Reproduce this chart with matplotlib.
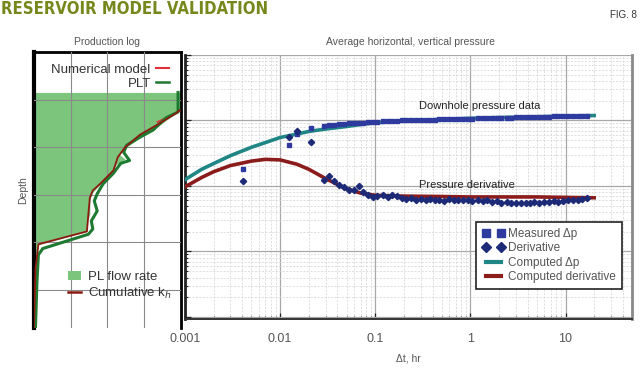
import matplotlib
matplotlib.use("Agg")
import matplotlib.pyplot as plt
from matplotlib.patches import Patch
from matplotlib.lines import Line2D
from matplotlib.ticker import LogLocator, NullFormatter, FixedLocator, FixedFormatter
from matplotlib import font_manager

plt.rcParams['font.family'] = ['Liberation Sans', 'DejaVu Sans']

# ---------------- Production log (left panel) ----------------
plt_flow = [0.98, 0.98, 0.90, 0.81, 0.72, 0.63, 0.61, 0.65, 0.59, 0.54, 0.47, 0.43, 0.41, 0.43, 0.39, 0.40, 0.37, 0.06, 0.03, 0.02, 0.01]
plt_depth = [-0.15, 0.26, 0.38, 0.64, 0.79, 0.96, 1.11, 1.28, 1.34, 1.55, 1.77, 1.98, 2.13, 2.34, 2.55, 2.72, 2.83, 3.13, 3.26, 3.83, 4.80]

pl_rate = [1.0, 1.0, 0.97, 0.88, 0.78, 0.70, 0.62, 0.58, 0.62, 0.56, 0.53, 0.45, 0.40, 0.38, 0.38, 0.36, 0.36, 0.35, 0.03, 0.01, 0.0]
pl_depth = [-0.15, 0.20, 0.28, 0.48, 0.70, 0.85, 1.02, 1.15, 1.25, 1.36, 1.52, 1.78, 1.95, 2.10, 2.40, 2.60, 2.75, 2.78, 3.05, 3.60, 4.80]

cum_kh = [0.99, 0.97, 0.86, 0.72, 0.62, 0.57, 0.54, 0.45, 0.40, 0.38, 0.37, 0.36, 0.03, 0.01, 0.0]
kh_depth = [0.22, 0.28, 0.49, 0.74, 1.00, 1.21, 1.49, 1.77, 1.91, 2.06, 2.40, 2.77, 3.04, 3.55, 4.80]

num_model = [0.99, 0.95, 0.90, 0.84]
num_depth = [0.24, 0.30, 0.38, 0.47]

# ---------------- Pressure data (right panel) ----------------
comp_t = [0.001, 0.0015, 0.002, 0.003, 0.005, 0.007, 0.01, 0.015, 0.02, 0.03, 0.05, 0.07, 0.1, 0.2, 0.5, 1, 2, 5, 10, 20]
comp_dp = [12.5, 18, 22, 29, 39, 46, 55, 62, 68, 74, 81, 87, 92, 98, 104, 108, 111, 114, 117, 119]
comp_deriv = [9.7, 13.5, 16.5, 20.5, 24, 25.5, 25, 21.5, 18, 13, 9, 7.8, 7.2, 7.0, 6.9, 6.8, 6.8, 6.8, 6.7, 6.6]

meas_t = [0.0041, 0.0125, 0.015, 0.021,
          0.029, 0.033, 0.037, 0.042, 0.047, 0.053, 0.060, 0.067, 0.075, 0.084, 0.094,
          0.105, 0.12, 0.135, 0.15, 0.17, 0.19, 0.21, 0.24, 0.27, 0.30, 0.34, 0.38,
          0.42, 0.47, 0.53, 0.60, 0.67, 0.75, 0.84, 0.94, 1.05, 1.2, 1.35, 1.5, 1.7,
          1.9, 2.1, 2.4, 2.7, 3.0, 3.4, 3.8, 4.2, 4.7, 5.3, 6.0, 6.7, 7.5, 8.4, 9.4,
          10.5, 12.0, 13.5, 15.0, 17.0]
meas_dp = [18, 42, 62, 78,
           82, 84, 86, 88, 89, 90, 91, 92, 93, 94, 95,
           96, 97, 98, 99, 99, 100, 100, 101, 101, 102, 102, 103,
           103, 104, 104, 105, 105, 106, 106, 107, 107, 108, 108, 109, 109,
           110, 110, 111, 111, 112, 112, 113, 113, 114, 114, 115, 115, 116, 116, 117,
           117, 118, 118, 119, 119]
meas_deriv = [12, 55, 68, 47,
              12.5, 14, 12, 10.5, 9.5, 8.6, 8.8, 10, 8.2, 7.3, 6.9,
              7.0, 7.3, 6.8, 7.2, 7.0, 6.5, 6.3, 6.6, 6.2, 6.4, 6.0, 6.3,
              6.1, 6.2, 5.9, 6.3, 6.0, 6.2, 6.0, 6.1, 5.9, 6.2, 5.8, 6.0, 5.7,
              5.8, 5.5, 5.6, 5.4, 5.5, 5.4, 5.5, 5.5, 5.6, 5.5, 5.7, 5.6, 5.8, 5.7, 5.9,
              6.0, 6.1, 6.2, 6.4, 6.5]

x_ticks = [0.001, 0.01, 0.1, 1, 10]
x_tick_labels = ["0.001", "0.01", "0.1", "1", "10"]

text_grey = '#555555'

fig = plt.figure(figsize=(6.4, 3.73), dpi=100)
W, H = 640, 373

def rect(x0, y0, x1, y1):
    return [x0 / W, 1 - y1 / H, (x1 - x0) / W, (y1 - y0) / H]

# ---- left axes ----
axl = fig.add_axes(rect(34, 52, 181, 328))
axl.fill_betweenx(pl_depth, 0, pl_rate, color='#7cc57c', lw=0, zorder=1)
axl.plot(num_model, num_depth, color='#e0303a', lw=1.2, zorder=3)
axl.plot(plt_flow, plt_depth, color='#1d7a30', lw=2.2, zorder=3)
axl.plot(cum_kh, kh_depth, color='#8b1a10', lw=1.3, zorder=4)
axl.set_xlim(0, 1)
axl.set_ylim(4.8, -1.0)
axl.xaxis.set_major_locator(FixedLocator([0.25, 0.5, 0.75]))
axl.yaxis.set_major_locator(FixedLocator([0, 1, 2, 3, 4]))
axl.grid(True, color='#8a8a8a', lw=0.8)
axl.set_axisbelow(False)
axl.tick_params(length=0, labelbottom=False, labelleft=False)
axl.spines['bottom'].set_visible(False)
axl.spines['left'].set_linewidth(3)
axl.spines['top'].set_linewidth(2)
axl.spines['right'].set_linewidth(2)
axl.set_ylabel('Depth', fontsize=7.5, color=text_grey, labelpad=4)

h1 = [Line2D([], [], color='#e0303a', lw=1.5), Line2D([], [], color='#1d7a30', lw=1.8)]
leg1 = axl.legend(h1, ['Numerical model', 'PLT'], loc='upper right', frameon=False,
                  markerfirst=False, fontsize=9.5, handlelength=1.0, handletextpad=0.4,
                  borderaxespad=0.5, labelspacing=0.1, labelcolor='#333333')
for t in leg1.get_texts():
    t.set_ha('right')
axl.add_artist(leg1)
h2 = [Patch(facecolor='#7cc57c', edgecolor='none'), Line2D([], [], color='#8b1a10', lw=1.8)]
axl.legend(h2, ['PL flow rate', 'Cumulative k$_h$'], loc='lower left', bbox_to_anchor=(0.15, 0.055),
           frameon=False, fontsize=9.5, handlelength=1.0, handletextpad=0.5,
           labelspacing=0.2, labelcolor='#333333')

# ---- right axes ----
axr = fig.add_axes(rect(185, 55, 632, 319))
axr.set_xscale('log')
axr.set_yscale('log')
axr.set_xlim(0.001, 50)
axr.set_ylim(0.093, 1000)
axr.xaxis.set_major_locator(FixedLocator(x_ticks))
axr.xaxis.set_major_formatter(FixedFormatter(x_tick_labels))
axr.xaxis.set_minor_locator(LogLocator(base=10, subs=range(2, 10)))
axr.xaxis.set_minor_formatter(NullFormatter())
axr.yaxis.set_major_locator(LogLocator(base=10))
axr.yaxis.set_minor_locator(LogLocator(base=10, subs=range(2, 10)))
axr.yaxis.set_major_formatter(NullFormatter())
axr.yaxis.set_minor_formatter(NullFormatter())
axr.grid(True, which='major', color='#a8a8a8', lw=0.9)
axr.grid(True, which='minor', color='#d2d2d2', lw=0.5, ls=(0, (3, 2)))
axr.set_axisbelow(True)
axr.tick_params(which='both', direction='in', top=False, right=False, left=True, labelleft=False,
                labelsize=9, labelcolor=text_grey, color='#222222')
axr.tick_params(which='major', length=4, width=0.9, pad=10)
axr.tick_params(which='minor', length=2.5, width=0.8)
axr.spines['top'].set_visible(False)
axr.spines['right'].set_linewidth(2.0)
axr.spines['right'].set_color('#8a8a8a')
axr.spines['bottom'].set_linewidth(1.4)
axr.spines['bottom'].set_color('#333333')
axr.spines['left'].set_linewidth(2.0)
axr.spines['left'].set_color('#222222')

axr.plot(comp_t, comp_dp, color='#1f8585', lw=2.6, zorder=3)
axr.plot(comp_t, comp_deriv, color='#8b1c1c', lw=2.6, zorder=3)
axr.plot(meas_t, meas_dp, ls='none', marker='s', ms=3.0, color='#2e3a9e', zorder=4)
axr.plot(meas_t, meas_deriv, ls='none', marker='D', ms=3.2, color='#1c2a78', zorder=4)

axr.text(0.29, 165, 'Downhole pressure data', fontsize=8, color='#222222', va='center', ha='left')
axr.text(0.29, 10.3, 'Pressure derivative', fontsize=8, color='#222222', va='center', ha='left')

hr = [Line2D([], [], ls='none', marker='s', ms=5.5, color='#2e3a9e'),
      Line2D([], [], ls='none', marker='D', ms=5.5, color='#1c2a78'),
      Line2D([], [], color='#1f8585', lw=3),
      Line2D([], [], color='#8b1c1c', lw=3)]
legr = axr.legend(hr, ['Measured Δp', 'Derivative', 'Computed Δp', 'Computed derivative'],
                  loc='lower right', bbox_to_anchor=(0.99, 0.09), fontsize=8.5, numpoints=2,
                  handlelength=1.9, handletextpad=0.3, labelspacing=0.22, borderpad=0.5,
                  fancybox=False, framealpha=1, edgecolor='#222222', labelcolor=text_grey)
legr.get_frame().set_linewidth(1.2)
axr.set_xlabel('Δt, hr', fontsize=7.5, color=text_grey, labelpad=6)

# ---- titles ----
fp = font_manager.FontProperties(family='DejaVu Sans', weight='bold', stretch='condensed', size=12)
fig.text(1 / W, 1 - 9.5 / H, 'RESERVOIR MODEL VALIDATION', fontproperties=fp,
         color='#76881c', va='center', ha='left')
fig.text(637 / W, 1 - 15 / H, 'FIG. 8', fontsize=7, color='#333333', va='center', ha='right')
fig.text(107 / W, 1 - 42 / H, 'Production log', fontsize=7.5, color=text_grey, va='center', ha='center')
fig.text(410 / W, 1 - 42 / H, 'Average horizontal, vertical pressure', fontsize=7.5, color=text_grey,
         va='center', ha='center')

fig.savefig('out.png', dpi=100)
